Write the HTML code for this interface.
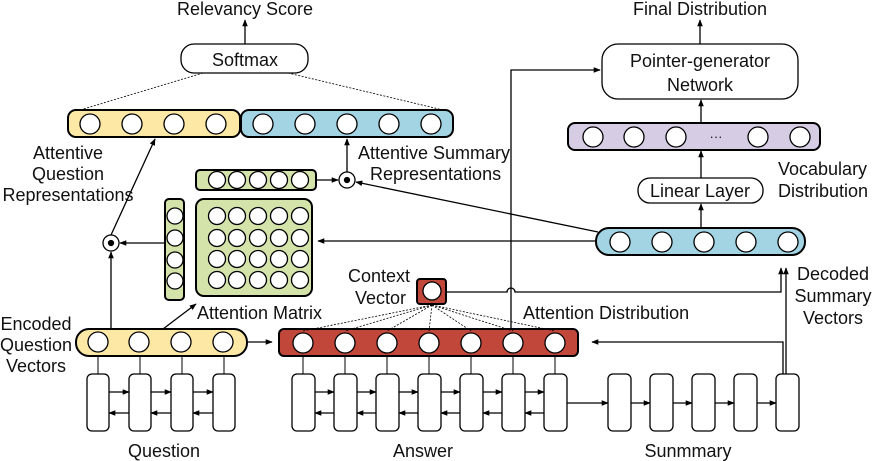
<!DOCTYPE html>
<html><head><meta charset="utf-8"><style>
body{margin:0;background:#fff}
svg{display:block}
text{font-family:"Liberation Sans",sans-serif;font-size:18px;fill:#111}
</style></head><body>
<svg width="875" height="461" viewBox="0 0 875 461" xmlns="http://www.w3.org/2000/svg">
<defs>
<marker id="a" viewBox="0 0 10 10" refX="9" refY="5" markerWidth="7" markerHeight="7" orient="auto-start-reverse" markerUnits="userSpaceOnUse"><path d="M0,1L10,5L0,9z" fill="#000"/></marker>
</defs>
<g stroke="#000" stroke-width="1.3" fill="none">
<rect x="181" y="44" width="127" height="29" rx="13" fill="#fff"/>
<line x1="245" y1="44" x2="245" y2="20" marker-end="url(#a)"/>
<line x1="203" y1="73" x2="80" y2="110" stroke-dasharray="2,1.5" stroke-width="0.8"/>
<line x1="288" y1="73" x2="443" y2="110" stroke-dasharray="2,1.5" stroke-width="0.8"/>
<rect x="68" y="110" width="172" height="27" rx="8" fill="#fde9a5" stroke-width="2"/>
<rect x="241" y="110" width="212" height="27" rx="8" fill="#a2d4e4" stroke-width="2"/>
<g fill="#fff"><circle cx="90" cy="124" r="10"/><circle cx="132" cy="124" r="10"/><circle cx="174" cy="124" r="10"/><circle cx="216" cy="124" r="10"/>
<circle cx="263" cy="124" r="10"/><circle cx="305" cy="124" r="10"/><circle cx="347" cy="124" r="10"/><circle cx="389" cy="124" r="10"/><circle cx="431" cy="124" r="10"/></g>
<line x1="111" y1="235" x2="155" y2="139" marker-end="url(#a)"/>
<rect x="196" y="170" width="120" height="20" rx="4" fill="#d4e3aa" stroke-width="2"/>
<g fill="#fff"><circle cx="217" cy="180" r="8.5"/><circle cx="237" cy="180" r="8.5"/><circle cx="258" cy="180" r="8.5"/><circle cx="279" cy="180" r="8.5"/><circle cx="300" cy="180" r="8.5"/></g>
<line x1="316" y1="180" x2="338" y2="180" marker-end="url(#a)"/>
<circle cx="347" cy="180" r="8" fill="#fff"/><circle cx="347" cy="180" r="2.5" fill="#000"/>
<line x1="347" y1="172" x2="347" y2="139" marker-end="url(#a)"/>
<line x1="598" y1="232" x2="356" y2="182" marker-end="url(#a)"/>
<rect x="165" y="199" width="19" height="101" rx="4" fill="#d4e3aa" stroke-width="2"/>
<g fill="#fff"><circle cx="175" cy="216" r="8"/><circle cx="175" cy="238" r="8"/><circle cx="175" cy="260" r="8"/><circle cx="175" cy="281" r="8"/></g>
<rect x="196" y="199" width="116" height="97" rx="8" fill="#d4e3aa" stroke-width="2"/>
<g fill="#fff">
<circle cx="217" cy="216" r="8.5"/><circle cx="237" cy="216" r="8.5"/><circle cx="258" cy="216" r="8.5"/><circle cx="279" cy="216" r="8.5"/><circle cx="300" cy="216" r="8.5"/>
<circle cx="217" cy="238" r="8.5"/><circle cx="237" cy="238" r="8.5"/><circle cx="258" cy="238" r="8.5"/><circle cx="279" cy="238" r="8.5"/><circle cx="300" cy="238" r="8.5"/>
<circle cx="217" cy="259" r="8.5"/><circle cx="237" cy="259" r="8.5"/><circle cx="258" cy="259" r="8.5"/><circle cx="279" cy="259" r="8.5"/><circle cx="300" cy="259" r="8.5"/>
<circle cx="217" cy="280" r="8.5"/><circle cx="237" cy="280" r="8.5"/><circle cx="258" cy="280" r="8.5"/><circle cx="279" cy="280" r="8.5"/><circle cx="300" cy="280" r="8.5"/></g>
<line x1="165" y1="243" x2="120" y2="243" marker-end="url(#a)"/>
<circle cx="111" cy="243" r="8" fill="#fff"/><circle cx="111" cy="243" r="2.5" fill="#000"/>
<line x1="111" y1="329" x2="111" y2="252" marker-end="url(#a)"/>
<line x1="596" y1="241" x2="318" y2="241" marker-end="url(#a)"/>
<rect x="76" y="329" width="171" height="27" rx="13" fill="#fde9a5" stroke-width="2"/>
<g fill="#fff"><circle cx="98" cy="342" r="10"/><circle cx="139" cy="342" r="10"/><circle cx="181" cy="342" r="10"/><circle cx="223" cy="342" r="10"/></g>
<line x1="163" y1="329" x2="196" y2="304" marker-end="url(#a)"/>
<line x1="248" y1="342" x2="272" y2="342" marker-end="url(#a)"/>
<rect x="279" y="329" width="299" height="27" rx="5" fill="#c1473b" stroke-width="2"/>
<g fill="#fff"><circle cx="303" cy="343" r="10"/><circle cx="345" cy="343" r="10"/><circle cx="387" cy="343" r="10"/><circle cx="429" cy="343" r="10"/><circle cx="471" cy="343" r="10"/><circle cx="513" cy="343" r="10"/><circle cx="555" cy="343" r="10"/></g>
<g stroke-dasharray="2,1.5" stroke-width="0.8">
<line x1="432" y1="305" x2="303" y2="331"/><line x1="432" y1="305" x2="345" y2="331"/><line x1="432" y1="305" x2="387" y2="331"/><line x1="432" y1="305" x2="429" y2="331"/><line x1="432" y1="305" x2="471" y2="331"/><line x1="432" y1="305" x2="513" y2="331"/><line x1="432" y1="305" x2="555" y2="331"/></g>
<rect x="417" y="279" width="29" height="25" rx="3" fill="#c1473b" stroke-width="2"/>
<circle cx="432" cy="291" r="9" fill="#fff"/>
<path d="M446,292H507a4,4 0 0 1 8,0H781V268" marker-end="url(#a)"/>
<path d="M511,329V70H600" marker-end="url(#a)"/>
<path d="M786,374V268" marker-end="url(#a)"/>
<path d="M783,374V342H592" marker-end="url(#a)"/>
<rect x="602" y="44" width="196" height="55" rx="16" fill="#fff"/>
<line x1="700" y1="44" x2="700" y2="20" marker-end="url(#a)"/>
<rect x="568" y="123" width="252" height="27" rx="7" fill="#d6cce4" stroke-width="2"/>
<g fill="#fff"><circle cx="593" cy="137" r="10"/><circle cx="634" cy="137" r="10"/><circle cx="676" cy="137" r="10"/><circle cx="758" cy="137" r="10"/><circle cx="800" cy="137" r="10"/></g>
<line x1="701" y1="123" x2="701" y2="100" marker-end="url(#a)"/>
<line x1="701" y1="178" x2="701" y2="151" marker-end="url(#a)"/>
<rect x="638" y="178" width="125" height="25" rx="12" fill="#fff"/>
<line x1="701" y1="228" x2="701" y2="204" marker-end="url(#a)"/>
<rect x="596" y="228" width="209" height="27" rx="13" fill="#a2d4e4" stroke-width="2"/>
<g fill="#fff"><circle cx="620" cy="242" r="10"/><circle cx="662" cy="242" r="10"/><circle cx="704" cy="242" r="10"/><circle cx="746" cy="242" r="10"/><circle cx="788" cy="242" r="10"/></g>
<g fill="#fff">
<rect x="87" y="374" width="22" height="57" rx="5"/><rect x="129" y="374" width="22" height="57" rx="5"/><rect x="171" y="374" width="22" height="57" rx="5"/><rect x="213" y="374" width="22" height="57" rx="5"/>
<rect x="292" y="374" width="23" height="57" rx="5"/><rect x="334" y="374" width="23" height="57" rx="5"/><rect x="376" y="374" width="23" height="57" rx="5"/><rect x="418" y="374" width="23" height="57" rx="5"/><rect x="460" y="374" width="23" height="57" rx="5"/><rect x="502" y="374" width="23" height="57" rx="5"/><rect x="544" y="374" width="23" height="57" rx="5"/>
<rect x="608" y="374" width="23" height="57" rx="5"/><rect x="650" y="374" width="23" height="57" rx="5"/><rect x="692" y="374" width="23" height="57" rx="5"/><rect x="734" y="374" width="23" height="57" rx="5"/><rect x="776" y="374" width="23" height="57" rx="5"/></g>
<g stroke-width="1">
<line x1="98" y1="356" x2="98" y2="374"/><line x1="140" y1="356" x2="140" y2="374"/><line x1="182" y1="356" x2="182" y2="374"/><line x1="224" y1="356" x2="224" y2="374"/>
<line x1="303" y1="356" x2="303" y2="374"/><line x1="345" y1="356" x2="345" y2="374"/><line x1="387" y1="356" x2="387" y2="374"/><line x1="429" y1="356" x2="429" y2="374"/><line x1="471" y1="356" x2="471" y2="374"/><line x1="513" y1="356" x2="513" y2="374"/><line x1="555" y1="356" x2="555" y2="374"/></g>
<g>
<line x1="109" y1="392" x2="129" y2="392" marker-end="url(#a)"/><line x1="151" y1="392" x2="171" y2="392" marker-end="url(#a)"/><line x1="193" y1="392" x2="213" y2="392" marker-end="url(#a)"/>
<line x1="129" y1="413" x2="109" y2="413" marker-end="url(#a)"/><line x1="171" y1="413" x2="151" y2="413" marker-end="url(#a)"/><line x1="213" y1="413" x2="193" y2="413" marker-end="url(#a)"/>
<line x1="315" y1="392" x2="334" y2="392" marker-end="url(#a)"/><line x1="357" y1="392" x2="376" y2="392" marker-end="url(#a)"/><line x1="399" y1="392" x2="418" y2="392" marker-end="url(#a)"/><line x1="441" y1="392" x2="460" y2="392" marker-end="url(#a)"/><line x1="483" y1="392" x2="502" y2="392" marker-end="url(#a)"/><line x1="525" y1="392" x2="544" y2="392" marker-end="url(#a)"/>
<line x1="334" y1="413" x2="315" y2="413" marker-end="url(#a)"/><line x1="376" y1="413" x2="357" y2="413" marker-end="url(#a)"/><line x1="418" y1="413" x2="399" y2="413" marker-end="url(#a)"/><line x1="460" y1="413" x2="441" y2="413" marker-end="url(#a)"/><line x1="502" y1="413" x2="483" y2="413" marker-end="url(#a)"/><line x1="544" y1="413" x2="525" y2="413" marker-end="url(#a)"/>
<line x1="567" y1="403" x2="608" y2="403" marker-end="url(#a)"/><line x1="631" y1="403" x2="650" y2="403" marker-end="url(#a)"/><line x1="673" y1="403" x2="692" y2="403" marker-end="url(#a)"/><line x1="715" y1="403" x2="734" y2="403" marker-end="url(#a)"/><line x1="757" y1="403" x2="776" y2="403" marker-end="url(#a)"/>
</g>
</g>
<text x="245" y="15" text-anchor="middle">Relevancy Score</text>
<text x="245" y="66" text-anchor="middle">Softmax</text>
<text x="68" y="159" text-anchor="middle">Attentive</text>
<text x="68" y="180" text-anchor="middle">Question</text>
<text x="68" y="201" text-anchor="middle">Representations</text>
<text x="358" y="159">Attentive Summary</text>
<text x="370" y="180">Representations</text>
<text x="700" y="15" text-anchor="middle">Final Distribution</text>
<text x="700" y="67" text-anchor="middle">Pointer-generator</text>
<text x="700" y="91" text-anchor="middle">Network</text>
<text x="716" y="141" text-anchor="middle" style="font-size:13px">···</text>
<text x="700" y="197" text-anchor="middle">Linear Layer</text>
<text x="778" y="175">Vocabulary</text>
<text x="778" y="197">Distribution</text>
<text x="833" y="280" text-anchor="middle">Decoded</text>
<text x="833" y="302" text-anchor="middle">Summary</text>
<text x="833" y="324" text-anchor="middle">Vectors</text>
<text x="410" y="282" text-anchor="end">Context</text>
<text x="406" y="304" text-anchor="end">Vector</text>
<text x="197" y="319">Attention Matrix</text>
<text x="523" y="319">Attention Distribution</text>
<text x="36" y="330" text-anchor="middle">Encoded</text>
<text x="36" y="351" text-anchor="middle">Question</text>
<text x="36" y="372" text-anchor="middle">Vectors</text>
<text x="164" y="457" text-anchor="middle">Question</text>
<text x="423" y="457" text-anchor="middle">Answer</text>
<text x="688" y="457" text-anchor="middle">Sunmmary</text>
</svg>
</body></html>
